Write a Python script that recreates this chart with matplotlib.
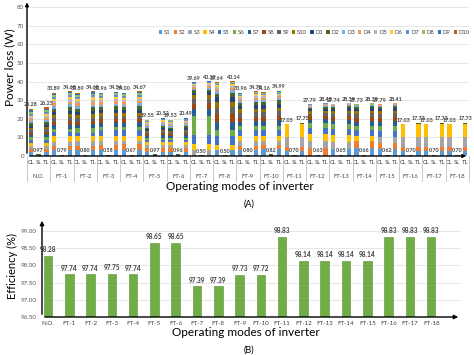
import numpy as np
import matplotlib
matplotlib.use("Agg")
from matplotlib import pyplot as plt

plt.rcParams['font.family'] = ['Lato', 'DejaVu Sans']

modes = ['N.O.', 'FT-1', 'FT-2', 'FT-3', 'FT-4', 'FT-5', 'FT-6', 'FT-7', 'FT-8', 'FT-9',
         'FT-10', 'FT-11', 'FT-12', 'FT-13', 'FT-14', 'FT-15', 'FT-16', 'FT-17', 'FT-18']
loss_types = ['CL', 'SL', 'TL']
components = ['S1', 'S2', 'S3', 'S4', 'S5', 'S6', 'S7', 'S8', 'S9', 'S10',
              'D1', 'D2', 'D3', 'D4', 'D5', 'D6', 'D7', 'D8', 'D9', 'D10']

# conduction loss per device (S1..S10, D1..D10), W
cl_no = [2.0, 1.8, 1.6, 1.8, 1.5, 1.3, 1.3, 1.3, 1.3, 1.2, 1.2, 1.2, 1.1, 1.1, 1.0, 1.0, 1.0, 0.9, 0.9, 0.78]
cl_ft1 = [3.0, 2.5, 2.2, 3.0, 2.0, 2.0, 1.8, 1.8, 2.0, 1.8, 1.7, 1.6, 1.5, 1.4, 1.3, 1.2, 1.1, 0.9, 0.6, 0.49]
cl_ft2 = [3.2, 2.4, 2.2, 2.8, 2.0, 2.2, 1.8, 1.6, 2.0, 1.8, 1.7, 1.6, 1.5, 1.4, 1.3, 1.2, 1.1, 0.9, 0.6, 0.59]
cl_ft3 = [3.0, 3.0, 2.0, 2.5, 3.5, 1.8, 2.0, 1.8, 1.6, 1.8, 1.6, 1.5, 1.5, 1.3, 1.2, 1.1, 1.0, 0.9, 0.6, 0.26]
cl_ft4 = [3.0, 3.2, 2.0, 2.6, 3.0, 1.8, 2.2, 1.8, 1.6, 1.8, 1.6, 1.5, 1.5, 1.3, 1.2, 1.1, 1.0, 0.9, 0.6, 0.30]
cl_ft5 = [2.0, 2.2, 1.5, 1.8, 1.2, 1.0, 1.0, 1.0, 1.0, 0.9, 0.9, 0.8, 0.8, 0.7, 0.7, 0.6, 0.6, 0.4, 0.3, 0.15]
cl_ft6 = [2.2, 2.0, 1.5, 1.8, 1.2, 1.0, 1.0, 1.0, 1.0, 0.9, 0.9, 0.8, 0.8, 0.7, 0.7, 0.6, 0.6, 0.4, 0.3, 0.13]
cl_ft7 = [0.0, 0.0, 3.0, 3.5, 5.0, 10.0, 3.5, 3.0, 2.5, 2.0, 1.5, 1.2, 1.0, 0.9, 0.8, 0.6, 0.5, 0.4, 0.2, 0.09]
cl_ft8 = [3.0, 0.0, 0.0, 3.0, 5.0, 3.0, 4.0, 4.5, 3.5, 3.0, 2.5, 2.0, 1.5, 1.2, 1.0, 0.8, 0.6, 0.5, 0.3, 0.24]
cl_ft9 = [3.0, 2.5, 2.5, 3.0, 3.0, 2.0, 2.5, 2.0, 2.5, 2.0, 1.8, 1.5, 1.2, 1.0, 1.0, 0.8, 0.6, 0.5, 0.3, 0.26]
cl_ft10 = [3.5, 2.5, 2.0, 2.5, 3.5, 2.0, 3.0, 2.0, 2.5, 2.0, 2.0, 1.5, 1.2, 1.0, 0.8, 0.6, 0.5, 0.5, 0.3, 0.26]
cl_ft11 = [2.5, 2.5, 5.0, 7.05, 0, 0, 0, 0, 0, 0, 0, 0, 0, 0, 0, 0, 0, 0, 0, 0]
cl_ft12 = [0.0, 4.5, 3.5, 4.0, 3.0, 2.5, 2.0, 1.8, 1.5, 1.2, 1.0, 0.8, 0.6, 0.5, 0.4, 0.2, 0.29, 0, 0, 0]
cl_ft13 = [4.0, 0.0, 3.5, 4.0, 3.0, 2.5, 2.0, 2.0, 1.5, 1.5, 1.2, 1.0, 0.8, 0.5, 0.24, 0, 0, 0, 0, 0]
cl_ft14 = [4.5, 3.5, 0.0, 3.0, 3.0, 2.0, 2.5, 2.0, 2.0, 1.5, 1.2, 1.0, 0.5, 0, 0, 0, 0, 1.03, 0, 0]
cl_ft15 = [4.0, 3.0, 3.0, 0.0, 3.5, 2.5, 2.5, 2.0, 2.0, 1.5, 1.2, 1.0, 0.5, 1.09, 0, 0, 0, 0, 0, 0]
cl_ft16 = [2.5, 2.5, 5.0, 7.03, 0, 0, 0, 0, 0, 0, 0, 0, 0, 0, 0, 0, 0, 0, 0, 0]
cl_ft17 = [2.5, 2.5, 5.0, 7.03, 0, 0, 0, 0, 0, 0, 0, 0, 0, 0, 0, 0, 0, 0, 0, 0]
cl_ft18 = [2.5, 2.5, 5.0, 7.03, 0, 0, 0, 0, 0, 0, 0, 0, 0, 0, 0, 0, 0, 0, 0, 0]

# switching loss, split between the switch (S7) and diode (D2) parts
sl_sw = [0.50, 0.40, 0.40, 0.30, 0.35, 0.50, 0.50, 0.25, 0.25, 0.40,
         0.42, 0.35, 0.33, 0.35, 0.36, 0.32, 0.35, 0.35, 0.35]
sl_di = [0.47, 0.39, 0.40, 0.28, 0.32, 0.47, 0.46, 0.25, 0.25, 0.40,
         0.40, 0.35, 0.30, 0.30, 0.30, 0.30, 0.35, 0.35, 0.35]

cl_total = [25.28, 33.89, 33.89, 33.96, 34.00, 19.55, 19.53, 39.69, 39.64, 33.96,
            34.16, 17.05, 27.79, 27.74, 27.73, 27.79, 17.03, 17.03, 17.03]
sl_total = [0.97, 0.79, 0.80, 0.58, 0.67, 0.97, 0.96, 0.50, 0.50, 0.80,
            0.82, 0.70, 0.63, 0.65, 0.66, 0.62, 0.70, 0.70, 0.70]
tl_total = [26.25, 34.68, 34.68, 34.54, 34.67, 20.52, 20.49, 40.19, 40.14, 34.75,
            34.99, 17.75, 28.42, 28.39, 28.39, 28.41, 17.73, 17.73, 17.73]

efficiency = [98.28, 97.74, 97.74, 97.75, 97.74, 98.65, 98.65, 97.39, 97.39, 97.73,
              97.72, 98.83, 98.14, 98.14, 98.14, 98.14, 98.83, 98.83, 98.83]

colors = ['#5B9BD5', '#ED7D31', '#A5A5A5', '#FFC000', '#4472C4', '#70AD47',
          '#255E91', '#9E480E', '#636363', '#997300', '#264478', '#43682B',
          '#7CAFDD', '#F1975A', '#B7B7B7', '#FFCD33', '#698ED0', '#8CC168',
          '#2E75B6', '#C55A11']

cl_rows = [cl_no, cl_ft1, cl_ft2, cl_ft3, cl_ft4, cl_ft5, cl_ft6, cl_ft7, cl_ft8, cl_ft9,
           cl_ft10, cl_ft11, cl_ft12, cl_ft13, cl_ft14, cl_ft15, cl_ft16, cl_ft17, cl_ft18]

# build the 57 stacked bars: CL, SL, TL for every mode
stack = []
for i in range(len(modes)):
    cl = np.array(cl_rows[i], dtype=float)
    sl = np.zeros(len(components))
    sl[6] = sl_sw[i]
    sl[11] = sl_di[i]
    stack.extend([cl, sl, cl + sl])
stack = np.array(stack)
bottoms = np.cumsum(stack, axis=1) - stack

W, H = 474, 355
def box(l, t, r, b):
    return [l / W, 1 - b / H, (r - l) / W, (b - t) / H]

txt = '#404040'
fig = plt.figure(figsize=(W / 100, H / 100), dpi=100)

# ---------------- (A) power loss ----------------
ax1 = fig.add_axes(box(27, 7, 469, 156))
x = np.arange(len(stack))
for j, name in enumerate(components):
    ax1.bar(x, stack[:, j], bottom=bottoms[:, j], width=0.55, color=colors[j],
            linewidth=0, label=name)
ax1.set_xlim(-0.5, len(stack) - 0.5)
ax1.set_ylim(0, 80)
ax1.set_yticks(np.arange(0, 81, 10))
ax1.tick_params(axis='y', labelsize=4.5, length=0, colors='#595959', pad=2)
ax1.set_xticks(x)
ax1.set_xticklabels(loss_types * len(modes), fontsize=4.2, color=txt)
ax1.tick_params(axis='x', length=0, pad=3)
ax1.grid(axis='y', color='#e3e3e3', linewidth=0.6)
ax1.set_axisbelow(True)
for s in ['top', 'right', 'left', 'bottom']:
    ax1.spines[s].set_visible(False)
ax1.annotate('', xy=(0, 1.05), xytext=(0, 0), xycoords='axes fraction',
             arrowprops=dict(arrowstyle='-|>', color='black', lw=1.0, mutation_scale=5))
ax1.annotate('', xy=(1.0, 0), xytext=(0, 0), xycoords='axes fraction',
             arrowprops=dict(arrowstyle='-|>', color='black', lw=1.0, mutation_scale=5))

for i in range(len(modes)):
    ax1.text(3 * i, cl_total[i] + 0.8, f'{cl_total[i]:.2f}', ha='center', va='bottom',
             fontsize=3.9, fontweight='bold', color=txt)
    ax1.text(3 * i + 1, sl_total[i] + 0.8, f'{sl_total[i]:.2f}', ha='center', va='bottom',
             fontsize=3.9, fontweight='bold', color=txt)
    ax1.text(3 * i + 2, tl_total[i] + 0.8, f'{tl_total[i]:.2f}', ha='center', va='bottom',
             fontsize=3.9, fontweight='bold', color=txt)
    # group label and divider below the axis
    ax1.text(3 * i + 1, -0.135, modes[i], transform=ax1.get_xaxis_transform(),
             ha='center', va='center', fontsize=4.2, color=txt)
    ax1.plot([3 * i - 0.5, 3 * i - 0.5], [0, -0.17], transform=ax1.get_xaxis_transform(),
             color='#bfbfbf', lw=0.6, clip_on=False)
ax1.plot([len(stack) - 0.5] * 2, [0, -0.17], transform=ax1.get_xaxis_transform(),
         color='#bfbfbf', lw=0.6, clip_on=False)

ax1.legend(ncol=20, loc='center', bbox_to_anchor=(0.65, 0.83), fontsize=4.2, frameon=False,
           handlelength=0.6, handleheight=0.6, handletextpad=0.3, columnspacing=0.5,
           borderpad=0.1, labelcolor=txt)

fig.text(10 / W, 1 - 67 / H, 'Power loss (W)', rotation=90, ha='center', va='center',
         fontsize=8.5, color='black')
fig.text(240 / W, 1 - 187 / H, 'Operating modes of inverter', ha='center', va='center',
         fontsize=8.5, color='black')
fig.text(249 / W, 1 - 204 / H, '(A)', ha='center', va='center', fontsize=6.5, color='black')

# ---------------- (B) efficiency ----------------
ax2 = fig.add_axes(box(42, 218, 461, 317))
xe = np.arange(len(modes))
ax2.bar(xe, efficiency, width=0.4, color='#70AD47', edgecolor='#5a8f38', linewidth=0.4)
ax2.set_xlim(-0.28, 19.4)
ax2.set_ylim(96.5, 96.5 + (317 - 218) / 34.4)
ax2.set_yticks(np.arange(96.5, 99.01, 0.5))
ax2.set_yticklabels([f'{v:.2f}' for v in np.arange(96.5, 99.01, 0.5)])
ax2.tick_params(axis='y', labelsize=4.5, length=0, colors='#595959', pad=4)
ax2.set_xticks(xe)
ax2.set_xticklabels(modes, fontsize=4.5, color=txt)
ax2.tick_params(axis='x', length=0, pad=3)
ax2.grid(axis='y', color='#e3e3e3', linewidth=0.6)
ax2.set_axisbelow(True)
for s in ['top', 'right', 'left', 'bottom']:
    ax2.spines[s].set_visible(False)
ax2.annotate('', xy=(0, 1.0), xytext=(0, 0), xycoords='axes fraction',
             arrowprops=dict(arrowstyle='-|>', color='black', lw=1.0, mutation_scale=6))
ax2.annotate('', xy=(1.0, 0), xytext=(0, 0), xycoords='axes fraction',
             arrowprops=dict(arrowstyle='-|>', color='black', lw=1.0, mutation_scale=6))
for i, v in enumerate(efficiency):
    ax2.text(i, v + 0.08, f'{v:.2f}', ha='center', va='bottom', fontsize=4.7,
             fontweight='bold', color=txt)

fig.text(12 / W, 1 - 266 / H, 'Efficiency (%)', rotation=90, ha='center', va='center',
         fontsize=8, color='black')
fig.text(246 / W, 1 - 333 / H, 'Operating modes of inverter', ha='center', va='center',
         fontsize=8.5, color='black')
fig.text(249 / W, 1 - 350 / H, '(B)', ha='center', va='center', fontsize=6.5, color='black')

fig.savefig('out.png', dpi=100)
